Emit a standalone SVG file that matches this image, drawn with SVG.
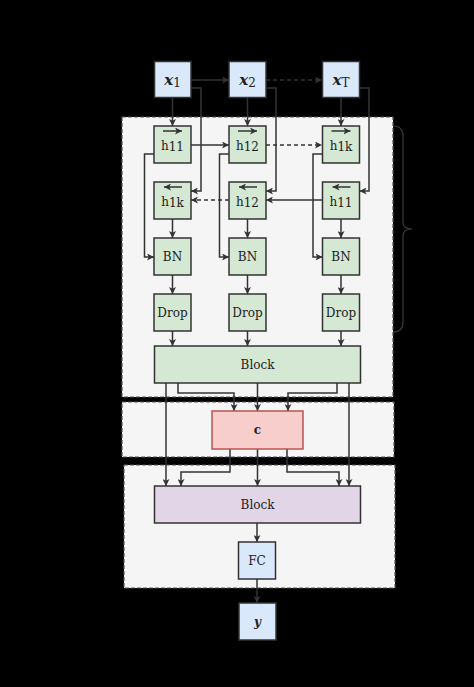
<svg xmlns="http://www.w3.org/2000/svg" width="474" height="687" viewBox="0 0 474 687">
<defs>
<marker id="ah" viewBox="0 0 8 8" refX="8" refY="4" markerWidth="7" markerHeight="7" markerUnits="userSpaceOnUse" orient="auto">
<path d="M0,0 L8,4 L0,8 L2,4 z" fill="#333"/>
</marker>
<style>
.panel{fill:#f5f5f5;stroke:#555;stroke-width:1.2;stroke-dasharray:4 2}
.blue{fill:#dae8fc;stroke:#333;stroke-width:1.5}
.green{fill:#d5e8d4;stroke:#333;stroke-width:1.5}
.red{fill:#f8cecc;stroke:#b85450;stroke-width:1.5}
.purple{fill:#e1d5e7;stroke:#333;stroke-width:1.5}
.t{font-family:"DejaVu Serif",serif;font-size:12px;fill:#222;text-anchor:middle}
.xt{font-family:"DejaVu Serif",serif;font-size:15px;fill:#222;text-anchor:middle}
.c{fill:none;stroke:#333;stroke-width:1.5}
.a{marker-end:url(#ah)}
.d{stroke-dasharray:4 3}
.mini{fill:none;stroke:#333;stroke-width:1.5;marker-end:url(#ah)}
</style>
</defs>
<rect x="0" y="0" width="474" height="687" fill="#000"/>
<g id="panels">
<rect class="panel" x="122" y="117" width="271" height="280"/>
<rect class="panel" x="122" y="402" width="272" height="55"/>
<rect class="panel" x="124" y="465" width="271" height="123"/>
<path d="M393,126 Q403,126 403,136 V222 Q403,229 412,229 Q403,229 403,236 V322 Q403,332 393,332" fill="none" stroke="#3a3a3a" stroke-width="1.2"/>
</g>
<g id="connectors">
<path class="c a" d="M191,80 H229"/>
<path class="c a d" d="M266,80 H322"/>
<path class="c a" d="M172.5,97 V126"/>
<path class="c a" d="M247.5,97 V126"/>
<path class="c a" d="M341,97 V126"/>
<path class="c a" d="M191,88 H201 V191 H191"/>
<path class="c a" d="M266,88 H276 V191 H266"/>
<path class="c a" d="M359.5,88 H369 V191 H359.5"/>
<path class="c a" d="M191,145 H229"/>
<path class="c a d" d="M266,145 H322"/>
<path class="c a" d="M322.5,200 H266"/>
<path class="c a d" d="M229,200 H191"/>
<path class="c a" d="M154,154 H144.5 V257 H154"/>
<path class="c a" d="M229,154 H219.5 V257 H229"/>
<path class="c a" d="M322.5,154 H313 V257 H322.5"/>
<path class="c a" d="M172.5,219 V238"/>
<path class="c a" d="M247.5,219 V238"/>
<path class="c a" d="M341,219 V238"/>
<path class="c a" d="M172.5,275 V294"/>
<path class="c a" d="M247.5,275 V294"/>
<path class="c a" d="M341,275 V294"/>
<path class="c a" d="M172.5,331 V346"/>
<path class="c a" d="M247.5,331 V346"/>
<path class="c a" d="M341,331 V346"/>
<path class="c a" d="M166,383 V486"/>
<path class="c a" d="M178,383 V393 H234 V411"/>
<path class="c a" d="M257.5,383 V411"/>
<path class="c a" d="M337,383 V393 H288 V411"/>
<path class="c a" d="M349,383 V486"/>
<path class="c a" d="M230,449 V472 H181 V486"/>
<path class="c a" d="M257.5,449 V486"/>
<path class="c a" d="M287,449 V472 H339 V486"/>
<path class="c a" d="M257,523 V542"/>
<path class="c a" d="M257,579 V603"/>
</g>
<g id="x1"><rect class="blue" x="154.5" y="61.5" width="36.5" height="36"/><text class="xt" x="172.5" y="85"><tspan font-weight="bold" font-style="italic">x</tspan><tspan font-size="12" dy="2">1</tspan></text></g>
<g id="x2"><rect class="blue" x="229" y="61.5" width="37" height="36"/><text class="xt" x="247.5" y="85"><tspan font-weight="bold" font-style="italic">x</tspan><tspan font-size="12" dy="2">2</tspan></text></g>
<g id="xT"><rect class="blue" x="322.5" y="61.5" width="37" height="36"/><text class="xt" x="341" y="85"><tspan font-weight="bold" font-style="italic">x</tspan><tspan font-size="12" dy="2">T</tspan></text></g>
<g id="f1"><rect class="green" x="154" y="126" width="37" height="37"/><path class="mini" d="M163,131 H182"/><text class="t" x="172.5" y="150" font-size="13">h<tspan font-size="12" dy="1">11</tspan></text></g>
<g id="f2"><rect class="green" x="229" y="126" width="37" height="37"/><path class="mini" d="M238,131 H257"/><text class="t" x="247.5" y="150" font-size="13">h<tspan font-size="12" dy="1">12</tspan></text></g>
<g id="f3"><rect class="green" x="322.5" y="126" width="37" height="37"/><path class="mini" d="M331.5,131 H350.5"/><text class="t" x="341" y="150" font-size="13">h<tspan font-size="12" dy="1">1k</tspan></text></g>
<g id="b1"><rect class="green" x="154" y="182" width="37" height="37"/><path class="mini" d="M182,187 H164"/><text class="t" x="172.5" y="206" font-size="13">h<tspan font-size="12" dy="1">1k</tspan></text></g>
<g id="b2"><rect class="green" x="229" y="182" width="37" height="37"/><path class="mini" d="M257,187 H239"/><text class="t" x="247.5" y="206" font-size="13">h<tspan font-size="12" dy="1">12</tspan></text></g>
<g id="b3"><rect class="green" x="322.5" y="182" width="37" height="37"/><path class="mini" d="M350.5,187 H332.5"/><text class="t" x="341" y="206" font-size="13">h<tspan font-size="12" dy="1">11</tspan></text></g>
<g id="bn1"><rect class="green" x="154" y="238" width="37" height="37"/><text class="t" x="172.5" y="261">BN</text></g>
<g id="bn2"><rect class="green" x="229" y="238" width="37" height="37"/><text class="t" x="247.5" y="261">BN</text></g>
<g id="bn3"><rect class="green" x="322.5" y="238" width="37" height="37"/><text class="t" x="341" y="261">BN</text></g>
<g id="d1"><rect class="green" x="154" y="294" width="37" height="37"/><text class="t" x="172.5" y="317">Drop</text></g>
<g id="d2"><rect class="green" x="229" y="294" width="37" height="37"/><text class="t" x="247.5" y="317">Drop</text></g>
<g id="d3"><rect class="green" x="322.5" y="294" width="37" height="37"/><text class="t" x="341" y="317">Drop</text></g>
<g id="block1"><rect class="green" x="154.5" y="346" width="206" height="37"/><text class="t" x="257.5" y="369">Block</text></g>
<g id="cnode"><rect class="red" x="212" y="411" width="91" height="38"/><text class="t" x="257.5" y="434" font-size="11" font-weight="bold">c</text></g>
<g id="block2"><rect class="purple" x="154.5" y="486" width="206" height="37"/><text class="t" x="257.5" y="509">Block</text></g>
<g id="fc"><rect class="blue" x="238.5" y="542" width="37" height="37"/><text class="t" x="257" y="565">FC</text></g>
<g id="y"><rect class="blue" x="239" y="603" width="37" height="37"/><text class="t" x="257.5" y="626" font-size="14" font-weight="bold" font-style="italic">y</text></g>
</svg>
